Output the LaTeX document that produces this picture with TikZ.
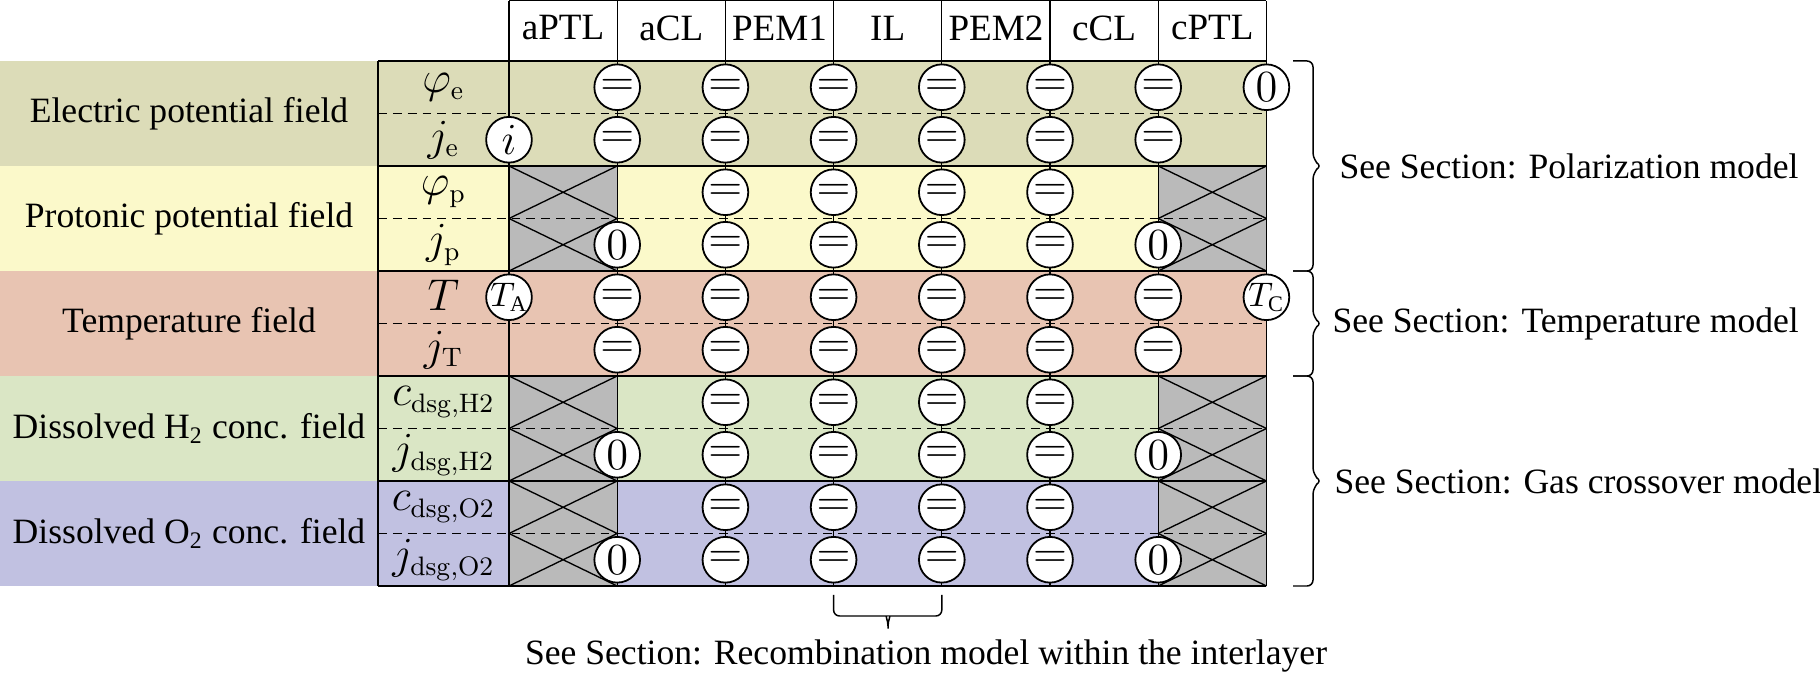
\RequirePackage{fix-cm}
\documentclass[tikz,border=0pt]{standalone}
\usepackage{amsmath}
\usepackage[no-math]{fontspec}
\setmainfont{Liberation Serif}
\DeclareMathSizes{15}{15}{9}{7}
\DeclareMathSizes{11.5}{11.5}{7.5}{6}
\definecolor{bandE}{RGB}{220,220,184}
\definecolor{bandP}{RGB}{251,249,202}
\definecolor{bandT}{RGB}{232,196,178}
\definecolor{bandH}{RGB}{218,230,197}
\definecolor{bandO}{RGB}{193,193,225}
\definecolor{crossgray}{RGB}{186,186,186}
\begin{document}
\begin{tikzpicture}[x=0.337pt,y=-0.337pt,
  txt/.style={font=\fontsize{12}{14}\selectfont, inner sep=0pt},
  htxt/.style={font=\fontsize{12.5}{14}\selectfont, inner sep=0pt},
  sym/.style={font=\fontsize{15}{18}\selectfont, inner sep=0pt},
  bc/.style={circle, draw, fill=white, line width=0.6pt, minimum size=15.4pt, inner sep=0pt, font=\fontsize{15}{18}\selectfont},
  tlab/.style={font=\fontsize{11.5}{14}\selectfont, inner sep=0pt},
  hline/.style={line width=0.7pt},
  vline/.style={line width=0.45pt},
  dline/.style={line width=0.6pt, dash pattern=on 3pt off 2pt},
  bracestyle/.style={line width=0.5pt, rounded corners=2pt}]
\useasboundingbox (0,0) rectangle (1820,674);
% band backgrounds
\fill[bandE] (0,61) rectangle (1266.4,166);
\fill[bandP] (0,166) rectangle (1266.4,271);
\fill[bandT] (0,271) rectangle (1266.4,376);
\fill[bandH] (0,376) rectangle (1266.4,481);
\fill[bandO] (0,481) rectangle (1266.4,586);
% crossed gray cells
\foreach \yt in {166,376,481} {
  \foreach \xa/\xb in {509/617.2,1158.2/1266.4} {
    \fill[crossgray] (\xa,\yt) rectangle (\xb,\yt+105);
    \draw[vline] (\xa,\yt) -- (\xb,\yt+52.5) (\xb,\yt) -- (\xa,\yt+52.5);
    \draw[vline] (\xa,\yt+52.5) -- (\xb,\yt+105) (\xb,\yt+52.5) -- (\xa,\yt+105);
  }
}
% dashed mid lines
\foreach \y in {113.5,218.5,323.5,428.5,533.5}
  \draw[dline] (378,\y) -- (1266.4,\y);
% vertical lines
\draw[vline] (378,61) -- (378,586);
\foreach \i in {0,...,7}
  \draw[vline] ({509+\i*108.2},0.8) -- ({509+\i*108.2},586);
% horizontal lines
\draw[vline] (509,0.8) -- (1266.4,0.8);
\foreach \y in {61,166,271,376,481,586}
  \draw[hline] (378,\y) -- (1266.4,\y);
% header labels
\foreach \k/\t in {0/aPTL,1/aCL,2/PEM1,3/IL,4/PEM2,5/cCL,6/cPTL}
  \node[htxt] (h-\t) at ({509+(\k+0.5)*108.2},28) {\t};
% left labels
\node[txt] (lab-E) at (189,113.5) {Electric potential field};
\node[txt] (lab-P) at (189,218.5) {Protonic potential field};
\node[txt] (lab-T) at (189,323.5) {Temperature field};
\node[txt] (lab-H) at (189,428.5) {Dissolved H\textsubscript{2} conc. field};
\node[txt] (lab-O) at (189,533.5) {Dissolved O\textsubscript{2} conc. field};
% symbols
\node[sym] (s-pe) at (443.5,87.25) {$\varphi_\mathrm{e}$};
\node[sym] (s-je) at (443.5,139.75) {$j_\mathrm{e}$};
\node[sym] (s-pp) at (443.5,192.25) {$\varphi_\mathrm{p}$};
\node[sym] (s-jp) at (443.5,244.75) {$j_\mathrm{p}$};
\node[sym] (s-T) at (443.5,295) {$T$};
\node[sym] (s-jT) at (443.5,349.75) {$j_\mathrm{T}$};
\node[sym] (s-cH) at (443.5,402.25) {$c_\mathrm{dsg,H2}$};
\node[sym] (s-jH) at (443.5,454.75) {$j_\mathrm{dsg,H2}$};
\node[sym] (s-cO) at (443.5,507.25) {$c_\mathrm{dsg,O2}$};
\node[sym] (s-jO) at (443.5,559.75) {$j_\mathrm{dsg,O2}$};
% equality circles
\foreach \r/\y/\from/\to in {pe/87.25/1/6, je/139.75/1/6, pp/192.25/2/5, jp/244.75/2/5, T/297.25/1/6, jT/349.75/1/6, cH/402.25/2/5, jH/454.75/2/5, cO/507.25/2/5, jO/559.75/2/5}
  \foreach \i in {\from,...,\to}
    \node[bc] (eq-\r-\i) at ({509+\i*108.2},\y) {$=$};
% boundary condition circles
\node[bc] (bc-pe) at (1266.4,87.25) {$0$};
\node[bc] (bc-je) at (509,139.75) {$i$};
\node[bc, label={[tlab]center:$T_{\text{A}}$}] (bc-TA) at (509,297.25) {};
\node[bc, label={[tlab]center:$T_{\text{C}}$}] (bc-TC) at (1266.4,297.25) {};
\foreach \r/\y in {jp/244.75, jH/454.75, jO/559.75} {
  \node[bc] (bc-\r-a) at (617.2,\y) {$0$};
  \node[bc] (bc-\r-c) at (1158.2,\y) {$0$};
}
% right braces
\draw[bracestyle] (1293,61) -- (1313,61) -- (1313,147) .. controls (1313,158) and (1317,163) .. (1322,166) .. controls (1317,169) and (1313,174) .. (1313,185) -- (1313,271) -- (1293,271);
\draw[bracestyle] (1293,271) -- (1313,271) -- (1313,304.5) .. controls (1313,315.5) and (1317,320.5) .. (1322,323.5) .. controls (1317,326.5) and (1313,331.5) .. (1313,342.5) -- (1313,376) -- (1293,376);
\draw[bracestyle] (1293,376) -- (1313,376) -- (1313,462) .. controls (1313,473) and (1317,478) .. (1322,481) .. controls (1317,484) and (1313,489) .. (1313,500) -- (1313,586) -- (1293,586);
\node[txt, anchor=west] (r-pol) at (1339,166) {See Section: Polarization model};
\node[txt, anchor=west] (r-tem) at (1332,323.5) {See Section: Temperature model};
\node[txt, anchor=west] (r-gas) at (1334,481) {See Section: Gas crossover model};
% bottom brace
\draw[bracestyle] (833.6,595) -- (833.6,616) -- (881,616) .. controls (885,616) and (888,620) .. (888,632) .. controls (888,620) and (891,616) .. (895,616) -- (941.8,616) -- (941.8,595);
\node[txt] (r-rec) at (926,656) {See Section: Recombination model within the interlayer};
\end{tikzpicture}
\end{document}
